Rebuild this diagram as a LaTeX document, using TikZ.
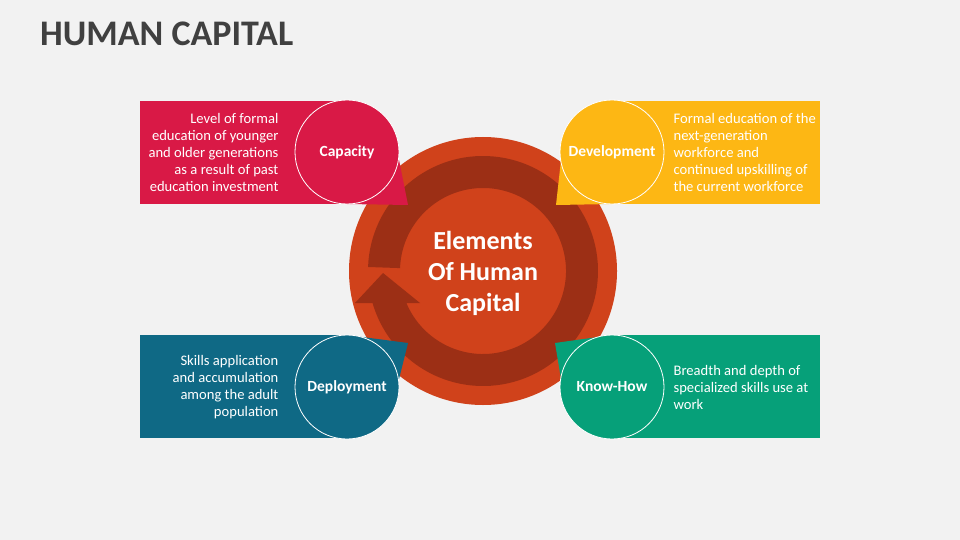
\documentclass[tikz,border=0pt]{standalone}
\usepackage{fontspec}
\setmainfont{Carlito}
\usetikzlibrary{positioning}
\definecolor{bggray}{HTML}{F2F2F2}
\definecolor{titlegray}{HTML}{404040}
\definecolor{hubred}{HTML}{D0421B}
\definecolor{hubdark}{HTML}{9C2F15}
\definecolor{capred}{HTML}{D91946}
\definecolor{devyellow}{HTML}{FDB714}
\definecolor{depteal}{HTML}{0F6985}
\definecolor{knowgreen}{HTML}{06A079}

\begin{document}
\begin{tikzpicture}[x=1pt, y=1pt,
  ball/.style={circle, draw=white, line width=0.8pt, minimum size=104pt, inner sep=0pt,
               text=white, font=\fontsize{15.5}{18}\selectfont\bfseries},
  desc/.style={text=white, inner sep=0pt, font=\fontsize{14.6}{17}\selectfont}]
\fill[bggray] (0,0) rectangle (960,-540);
\useasboundingbox (0,0) rectangle (960,-540);
\node[anchor=base west, inner sep=0pt, text=titlegray, font=\fontsize{36}{40}\selectfont\bfseries]
  (title) at (40,-46) {HUMAN CAPITAL};

% hub with circular arrow
\coordinate (hub) at (483,-271);
\fill[hubred] (hub) circle (134);
\fill[hubdark] ([shift={(178:115)}]hub) arc[start angle=178, end angle=-164, radius=115]
  -- ([shift={(-164:83)}]hub) arc[start angle=-164, end angle=178, radius=83] -- cycle;
\fill[hubdark] (355,-303) -- (420,-303) -- (383,-273) -- cycle;
\node[align=center, text=white, font=\fontsize{26}{31}\selectfont\bfseries] (hubtext) at (483,-273)
  {Elements\\Of Human\\Capital};

% capacity
\fill[capred] (140,-101) rectangle (347,-204);
\fill[capred] (347,-152) -- (399,-160) -- (408,-205) -- (347,-204) -- cycle;
\node[ball, fill=capred] (capacity) at (347,-152) {Capacity};
\node[desc, align=right, left=16pt of capacity] (capacitytext)
  {Level of formal\\education of younger\\and older generations\\as a result of past\\education investment};

% development
\fill[devyellow] (613,-101) rectangle (820,-204);
\fill[devyellow] (612,-152) -- (561,-160) -- (556,-205) -- (612,-204) -- cycle;
\node[ball, fill=devyellow] (development) at (612,-152) {Development};
\node[desc, align=left, right=9pt of development] (developmenttext)
  {Formal education of the\\next-generation\\workforce and\\continued upskilling of\\the current workforce};

% deployment
\fill[depteal] (140,-335) rectangle (347,-438);
\fill[depteal] (347,-387) -- (399,-379) -- (408,-343) -- (347,-335) -- cycle;
\node[ball, fill=depteal] (deployment) at (347,-387) {Deployment};
\node[desc, align=right, left=16pt of deployment] (deploymenttext)
  {Skills application\\and accumulation\\among the adult\\population};

% know-how
\fill[knowgreen] (613,-335) rectangle (820,-438);
\fill[knowgreen] (612,-387) -- (561,-379) -- (555,-343) -- (612,-335) -- cycle;
\node[ball, fill=knowgreen] (knowhow) at (612,-387) {Know-How};
\node[desc, align=left, right=9pt of knowhow] (knowhowtext)
  {Breadth and depth of\\specialized skills use at\\work};
\end{tikzpicture}
\end{document}
